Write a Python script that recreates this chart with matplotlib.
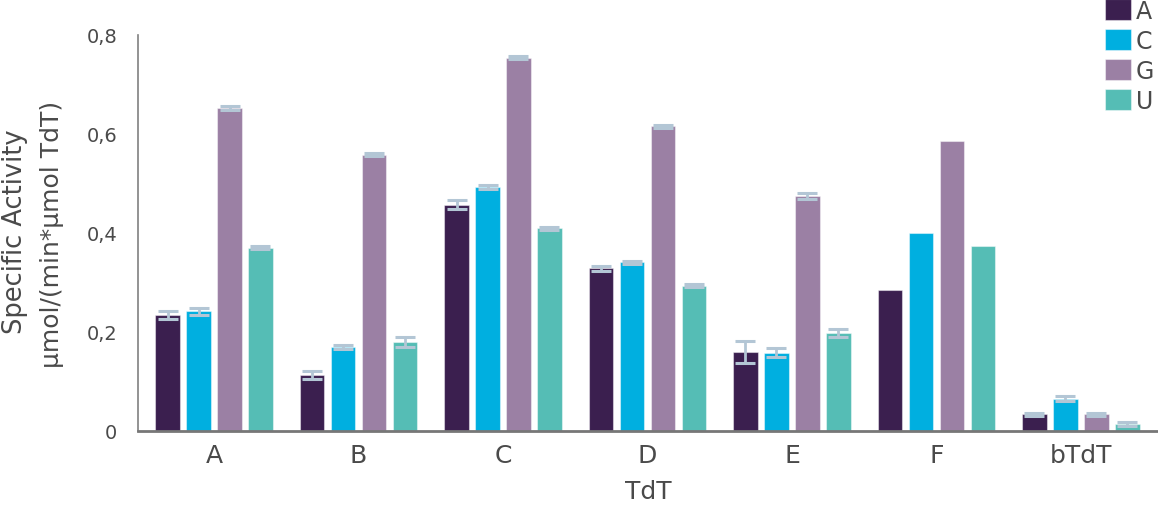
import numpy as np
import matplotlib
matplotlib.use("Agg")
import matplotlib.pyplot as plt

plt.rcParams['font.family'] = ['DejaVu Sans']

groups = ["A", "B", "C", "D", "E", "F", "bTdT"]
series = ["A", "C", "G", "U"]
vals_A = [0.234, 0.113, 0.457, 0.329, 0.160, 0.285, 0.034]
vals_C = [0.242, 0.170, 0.493, 0.341, 0.158, 0.400, 0.065]
vals_G = [0.653, 0.558, 0.754, 0.616, 0.475, 0.586, 0.034]
vals_U = [0.370, 0.180, 0.410, 0.293, 0.198, 0.374, 0.014]
err_A = [0.008, 0.008, 0.009, 0.005, 0.022, np.nan, 0.003]
err_C = [0.007, 0.004, 0.004, 0.003, 0.009, np.nan, 0.005]
err_G = [0.004, 0.003, 0.003, 0.003, 0.006, np.nan, 0.003]
err_U = [0.003, 0.010, 0.003, 0.003, 0.0075, np.nan, 0.004]
yticks = [0, 0.2, 0.4, 0.6, 0.8]
ytick_labels = ["0", "0,2", "0,4", "0,6", "0,8"]

values = [vals_A, vals_C, vals_G, vals_U]
errors = [err_A, err_C, err_G, err_U]
colors = ["#3b1f4f", "#00afe0", "#9b80a4", "#55bdb5"]
err_color = "#b3c6d5"
text_color = "#4a4a4a"

fig = plt.figure(figsize=(11.58, 5.10), dpi=100)
ax = fig.add_axes([138/1158, 1 - 432/510, 1 - 138/1158, (432 - 36)/510])

x = np.arange(len(groups))
width = 0.168
step = 0.2145
offsets = [-1.5 * step, -0.5 * step, 0.5 * step, 1.5 * step]
handles = []
for v, e, c, off, name in zip(values, errors, colors, offsets, series):
    b = ax.bar(x + off, v, width=width, color=c, edgecolor=(1, 1, 1, 0.45),
               linewidth=0.8, label=name, zorder=2)
    handles.append(b)
    v = np.array(v)
    e = np.array(e)
    m = ~np.isnan(e)
    ax.errorbar((x + off)[m], v[m], yerr=e[m], fmt='none', ecolor=err_color,
                elinewidth=2, capsize=7, capthick=2.2, zorder=3)

ax.set_xlim(-0.526, 6.533)
ax.set_ylim(0, 0.8)
ax.set_yticks(yticks)
ax.set_yticklabels(ytick_labels)
ax.set_xticks(x)
ax.set_xticklabels(groups)
ax.tick_params(axis='y', length=0, pad=15, labelsize=14, labelcolor=text_color)
ax.tick_params(axis='x', length=0, pad=9, labelsize=18, labelcolor=text_color)
for s in ["top", "right"]:
    ax.spines[s].set_visible(False)
ax.spines["left"].set_color("#808080")
ax.spines["left"].set_linewidth(1.2)
ax.spines["bottom"].set_color("#777777")
ax.spines["bottom"].set_linewidth(2)

ax.set_xlabel("TdT", fontsize=18, color=text_color, labelpad=8)
fig.text(15/1158, 1 - 232/510, "Specific Activity", rotation=90, fontsize=18.5,
         color=text_color, ha="center", va="center")
fig.text(52/1158, 1 - 234/510, "µmol/(min*µmol TdT)", rotation=90, fontsize=18,
         color=text_color, ha="center", va="center")

leg = fig.legend(handles=handles, labels=series, loc="upper left",
                 bbox_to_anchor=(1105/1158, 1.0), frameon=False,
                 fontsize=17, handlelength=1.1, handleheight=1.0,
                 handletextpad=0.2, labelspacing=0.25, borderpad=0,
                 borderaxespad=0, labelcolor=text_color)

fig.savefig("out.png", dpi=100)
